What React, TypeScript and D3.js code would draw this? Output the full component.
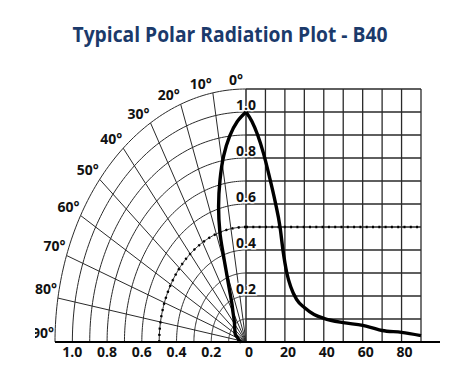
import React from "react";
import * as d3 from "d3";

// relative intensity, one value per angle (degrees)
const angles = [0, 3, 6, 9, 12, 15, 17.5, 19, 21, 23, 26, 30, 35, 40, 50, 60, 64, 70, 80, 90];
const intensity = [1.0, 0.96, 0.9, 0.82, 0.72, 0.61, 0.5, 0.4, 0.3, 0.24, 0.185, 0.15, 0.12, 0.103, 0.084, 0.072, 0.064, 0.05, 0.042, 0.028];

const ringLevels = [0.1, 0.2, 0.3, 0.4, 0.5, 0.6, 0.7, 0.8, 0.9, 1.0, 1.1];
const spokeAngles = [10, 20, 30, 40, 50, 60, 70, 80];
const angleLabels = [0, 10, 20, 30, 40, 50, 60, 70, 80, 90];
const leftTicks = [1.0, 0.8, 0.6, 0.4, 0.2];
const rightTicks = [0, 20, 40, 60, 80];
const yTicks = [0.2, 0.4, 0.6, 0.8, 1.0];
const halfLevel = 0.5;

const W = 459;
const H = 372;
const ox = 246;
const oy = 342;

const App: React.FC = () => {
  const xDeg = d3.scaleLinear().domain([0, 90]).range([ox, 421]);
  const yInt = d3.scaleLinear().domain([0, 1.1]).range([oy, 89]);
  const xLeft = d3.scaleLinear().domain([0, 1.1]).range([ox, 55]);

  const rad = (a: number) => (a * Math.PI) / 180;
  // polar plot is drawn as a squashed ellipse: x from xLeft, y from yInt
  const polar = (r: number, a: number): [number, number] => [
    xLeft(r * Math.sin(rad(a))),
    yInt(r * Math.cos(rad(a))),
  ];

  const line = d3.line<[number, number]>().x((d) => d[0]).y((d) => d[1]);
  const arcPts = (r: number) => d3.range(0, 90.01, 1).map((a) => polar(r, a));

  const data = angles.map((a, i) => ({ a, v: intensity[i] }));

  const polarCurve = d3
    .line<{ a: number; v: number }>()
    .x((d) => polar(d.v, d.a)[0])
    .y((d) => polar(d.v, d.a)[1])
    .curve(d3.curveCatmullRom.alpha(0.5));

  const cartCurve = d3
    .line<{ a: number; v: number }>()
    .x((d) => xDeg(d.a))
    .y((d) => yInt(d.v))
    .curve(d3.curveMonotoneX);

  const gridColor = "#2a2a2a";
  const font = "'Open Sans', 'DejaVu Sans', sans-serif";

  return (
    <div style={{ position: "absolute", left: 0, top: 0 }}>
      <svg width={W} height={H} style={{ display: "block", background: "#fff" }}>
        <defs>
          <clipPath id="clipLeft">
            <rect x={35} y={0} width={W} height={H} />
          </clipPath>
        </defs>

        <text
          x={230}
          y={42}
          textAnchor="middle"
          fontFamily={font}
          fontWeight={700}
          fontSize={21}
          fill="#1b3a6b"
          textLength={315}
          lengthAdjust="spacingAndGlyphs"
        >
          Typical Polar Radiation Plot - B40
        </text>

        {/* polar grid */}
        <g fill="none" stroke={gridColor} strokeWidth={1}>
          {ringLevels.map((r) => (
            <path key={r} d={line(arcPts(r)) || ""} />
          ))}
          {spokeAngles.map((a) => {
            const [x, y] = polar(1.1, a);
            return <line key={a} x1={ox} y1={oy} x2={x} y2={y} />;
          })}
        </g>

        {/* cartesian grid */}
        <g stroke={gridColor} strokeWidth={1.3}>
          {d3.range(10, 91, 10).map((d) => (
            <line key={d} x1={xDeg(d)} x2={xDeg(d)} y1={oy} y2={yInt(1.1)} />
          ))}
          {ringLevels.map((v) => (
            <line key={v} x1={ox} x2={xDeg(90)} y1={yInt(v)} y2={yInt(v)} />
          ))}
          <line x1={ox} x2={ox} y1={oy} y2={yInt(1.1)} strokeWidth={1.5} />
        </g>

        {/* half-intensity dotted marks */}
        <g fill="none" stroke="#000" strokeWidth={2.4} strokeDasharray="2 4.3">
          <path d={line(arcPts(halfLevel)) || ""} />
          <line x1={ox} x2={xDeg(90)} y1={yInt(halfLevel)} y2={yInt(halfLevel)} />
        </g>

        {/* baseline */}
        <line x1={55} x2={440} y1={oy} y2={oy} stroke="#000" strokeWidth={2.2} />

        {/* inner intensity labels */}
        <g
          fontFamily={font}
          fontWeight={700}
          fontSize={14}
          fill="#111"
          stroke="#fff"
          strokeWidth={3}
          style={{ paintOrder: "stroke" }}
          textAnchor="middle"
        >
          {yTicks.map((v) => (
            <text key={v} x={ox} y={yInt(v) - 2}>
              {v.toFixed(1)}
            </text>
          ))}
        </g>

        {/* curves */}
        <path d={polarCurve(data) || ""} fill="none" stroke="#000" strokeWidth={3.4} strokeLinejoin="round" />
        <path d={cartCurve(data) || ""} fill="none" stroke="#000" strokeWidth={3.4} strokeLinejoin="round" />

        {/* angle labels */}
        <g fontFamily={font} fontWeight={700} fontSize={14} fill="#111" textAnchor="end" clipPath="url(#clipLeft)">
          {angleLabels.map((a) => {
            const [x, y] = polar(1.1, a);
            return (
              <text key={a} x={x - (a === 0 ? 3 : 1)} y={y - 4}>
                {a}°
              </text>
            );
          })}
        </g>

        {/* bottom tick labels */}
        <g fontFamily={font} fontWeight={700} fontSize={14} fill="#111" textAnchor="middle">
          {leftTicks.map((v) => (
            <text key={v} x={xLeft(v)} y={357}>
              {v.toFixed(1)}
            </text>
          ))}
          {rightTicks.map((d) => (
            <text key={d} x={xDeg(d) + 3} y={357}>
              {d}
            </text>
          ))}
        </g>
      </svg>
    </div>
  );
};

export default App;
